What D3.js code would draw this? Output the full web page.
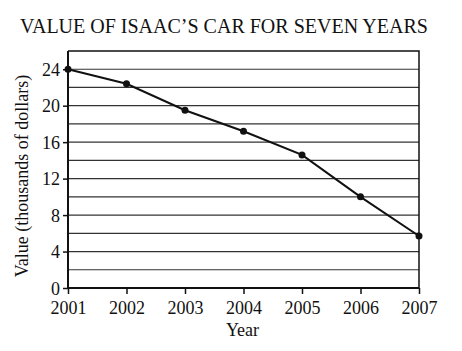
<!DOCTYPE html>
<html>
<head>
  <meta charset="utf-8">
  <title>Value of Isaac's Car</title>
  <style>
    body { margin: 0; background: #fff; }
    svg text { font-family: "Liberation Serif", "Times New Roman", serif; fill: #111; }
  </style>
</head>
<body>
  <svg id="chart" width="462" height="351"></svg>
  <script src="https://d3js.org/d3.v7.min.js"></script>
  <script>
    // data
    const years = [2001, 2002, 2003, 2004, 2005, 2006, 2007];
    const values = [24, 22.4, 19.5, 17.2, 14.6, 10.0, 5.7];
    const yTicks = [0, 4, 8, 12, 16, 20, 24];
    const gridValues = d3.range(2, 26, 2);

    const svg = d3.select("#chart");
    const plotLeft = 68, plotRight = 419, plotTop = 51, plotBottom = 288;

    const x = d3.scaleLinear().domain([2001, 2007]).range([plotLeft, plotRight]);
    const y = d3.scaleLinear().domain([0, 26]).range([plotBottom, plotTop]);

    // title
    svg.append("text")
      .attr("x", 224).attr("y", 33)
      .attr("text-anchor", "middle")
      .style("font-size", "20px")
      .text("VALUE OF ISAAC\u2019S CAR FOR SEVEN YEARS");

    // horizontal grid lines
    svg.append("g").selectAll("line")
      .data(gridValues)
      .join("line")
      .attr("x1", plotLeft).attr("x2", plotRight)
      .attr("y1", d => y(d)).attr("y2", d => y(d))
      .attr("stroke", "#333")
      .attr("stroke-width", 1.2);

    // frame: top and right
    svg.append("path")
      .attr("d", `M${plotLeft},${y(26)}H${plotRight}V${plotBottom}`)
      .attr("fill", "none")
      .attr("stroke", "#111")
      .attr("stroke-width", 1.5);

    // axes
    const xAxis = d3.axisBottom(x)
      .tickValues(years)
      .tickFormat(d3.format("d"))
      .tickSize(6)
      .tickPadding(7);
    const gX = svg.append("g")
      .attr("transform", `translate(0,${plotBottom})`)
      .call(xAxis);

    const yAxis = d3.axisLeft(y)
      .tickValues(yTicks)
      .tickSize(5)
      .tickPadding(3);
    const gY = svg.append("g")
      .attr("transform", `translate(${plotLeft},0)`)
      .call(yAxis);

    svg.selectAll(".domain").attr("stroke", "#111").attr("stroke-width", 2);
    gX.select(".domain").attr("d", `M${plotLeft},0H${plotRight}`);
    gY.select(".domain").attr("d", `M0,${y(26)}V${plotBottom}`);
    svg.selectAll(".tick line").attr("stroke", "#111").attr("stroke-width", 1.5);
    svg.selectAll(".tick text")
      .style("font-family", "'Liberation Serif', 'Times New Roman', serif")
      .style("font-size", "18px")
      .attr("fill", "#111");
    gY.selectAll(".tick text").attr("dy", "0.34em");

    // axis titles
    svg.append("text")
      .attr("x", (plotLeft + plotRight) / 2 - 1).attr("y", 336)
      .attr("text-anchor", "middle")
      .style("font-size", "18px")
      .text("Year");

    svg.append("text")
      .attr("transform", `translate(28,176) rotate(-90)`)
      .attr("text-anchor", "middle")
      .style("font-size", "18px")
      .text("Value (thousands of dollars)");

    // line and points
    const pts = years.map((yr, i) => [yr, values[i]]);
    svg.append("path")
      .datum(pts)
      .attr("fill", "none")
      .attr("stroke", "#111")
      .attr("stroke-width", 2)
      .attr("d", d3.line().x(d => x(d[0])).y(d => y(d[1])));

    svg.append("g").selectAll("circle")
      .data(pts)
      .join("circle")
      .attr("cx", d => x(d[0]))
      .attr("cy", d => y(d[1]))
      .attr("r", 3.5)
      .attr("fill", "#111");
  </script>
</body>
</html>
